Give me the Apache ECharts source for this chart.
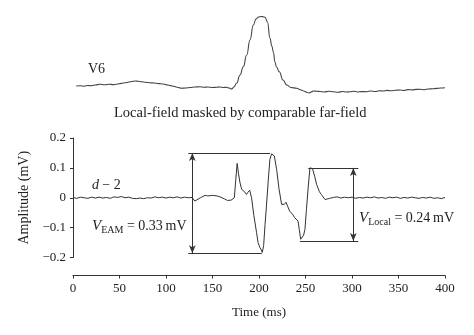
<!DOCTYPE html>
<html><head><meta charset="utf-8">
<script src="https://cdn.jsdelivr.net/npm/echarts@6/dist/echarts.min.js"></script>
<style>html,body{margin:0;padding:0;background:#fff}#c{width:474px;height:335px}</style>
</head><body><div id="c"></div>
<script>
// Time axis ticks (ms) and amplitude ticks (mV)
var xTicks = [0, 50, 100, 150, 200, 250, 300, 350, 400];
var yTicks = [-0.2, -0.1, 0, 0.1, 0.2];

// Lower trace d-2 : [time ms, amplitude mV]
var d2Trace = [
 [0,0.001],[4,-0.002],[8,0.002],[12,0],[16,-0.002],[20,0.002],[24,-0.001],[28,0.002],[32,-0.001],[36,0.001],
 [40,-0.002],[44,0.003],[48,0.001],[52,0.004],[56,0],[60,0.002],[64,-0.002],[68,-0.003],[72,-0.001],[76,-0.003],
 [80,0],[84,-0.001],[88,0.003],[92,0],[96,0.002],[100,-0.001],[104,0.002],[108,0],[112,0.003],[116,-0.001],
 [120,0.002],[124,0],[128,0.001],[131,-0.011],[133,-0.008],[137,0.0],[142,0.008],[145,0.006],[147,0.011],[150,0.008],
 [155,0.006],[158,0.003],[160,0.0],[163,-0.004],[166,-0.009],[168,-0.012],[170,-0.008],[172,-0.01],[173.5,0.0],[175,0.06],
 [176.5,0.115],[178,0.08],[179.6,0.05],[181.4,0.028],[183,0.03],[184.5,0.02],[186.5,0.011],[188,0.018],[190,0.025],[192,0.0],
 [194.5,-0.06],[197.4,-0.117],[199,-0.15],[201,-0.167],[202.5,-0.175],[203.5,-0.183],[205,-0.16],[206.5,-0.09],[208,-0.028],[210,0.06],
 [211.7,0.128],[213.5,0.147],[214.8,0.15],[216.5,0.14],[219,0.094],[221.5,0.03],[224.3,-0.022],[227.2,-0.022],[229,-0.015],[231,-0.03],
 [233,-0.045],[236,-0.055],[238.5,-0.067],[242,-0.078],[243.3,-0.106],[244.8,-0.139],[246,-0.143],[248,-0.125],[249.4,-0.106],[251,-0.04],
 [253,0.039],[254.8,0.1],[257.5,0.098],[260,0.07],[262,0.044],[265,0.02],[267,0.011],[271,-0.006],[276,-0.002],[280,0.001],
 [284,0.003],[288,-0.001],[292,0.002],[296,0],[300,0.002],[304,-0.002],[308,0.001],[312,-0.001],[316,0.002],[320,0],
 [324,0.003],[328,-0.001],[332,0.001],[336,-0.002],[340,0.002],[344,0],[348,0.002],[352,-0.002],[356,0.001],[360,-0.001],
 [364,0.002],[368,0],[372,-0.002],[376,0.001],[380,-0.001],[384,0.002],[388,-0.002],[392,0],[396,-0.003],[400,0.001]
];

// Upper trace V6 : [time ms, relative amplitude]
var v6Trace = [
 [3.5,0.04],[8,0.042],[12,0.038],[16,0.045],[20,0.043],[24,0.05],[29,0.057],[34,0.052],[39,0.058],[43,0.054],
 [47,0.057],[52,0.066],[56,0.072],[60,0.08],[63,0.085],[66.7,0.09],[70,0.088],[74,0.082],[78,0.078],[82.8,0.073],
 [87,0.07],[92,0.064],[97,0.06],[102,0.05],[107,0.04],[112,0.028],[116.9,0.017],[121,0.02],[126,0.025],[131,0.03],
 [136.6,0.033],[141,0.028],[145,0.03],[150,0.025],[154.5,0.027],[158,0.03],[162,0.025],[165.3,0.027],[168,0.02],[170.6,0.01],
 [173,0.03],[176,0.067],[179.6,0.15],[183.1,0.233],[186.8,0.35],[190.3,0.5],[193.9,0.65],[196.8,0.71],[199.5,0.73],[202.2,0.735],
 [204.5,0.733],[206.5,0.727],[209.1,0.68],[211.8,0.517],[213.8,0.44],[215.4,0.38],[217.2,0.28],[218.8,0.23],[221.8,0.183],[225.8,0.1],
 [229.8,0.05],[234.4,0.025],[240.5,0.017],[245.2,0.0],[249,-0.012],[251.3,-0.023],[253.8,-0.03],[256,-0.02],[258.4,-0.01],[262,-0.012],
 [265.6,-0.015],[270,-0.02],[275,-0.013],[280,-0.017],[285,-0.022],[290,-0.015],[294,-0.02],[297.8,-0.017],[302,-0.012],[306,-0.02],
 [310,-0.016],[315.8,-0.017],[320,-0.01],[325,-0.015],[329,-0.008],[333,-0.01],[338,-0.004],[342,-0.008],[347,-0.002],[351.6,0.0],
 [356,-0.005],[360,0.004],[365,0.001],[369,0.006],[373,0.007],[378,0.003],[382,0.01],[387,0.012],[391,0.016],[395,0.02],[400,0.023]
];

// Measurement brackets: [time of arrow, top level, bottom level, top line start, top line end, bottom line start, bottom line end]
var eamMarker = [128.3, 0.15, -0.186, 124, 211.8, 124, 203];
var localMarker = [301.4, 0.10, -0.145, 253, 306.8, 244, 306.8];

function bracket(m) {
  var ls = {color: '#333', width: 1, type: 'solid'};
  return [
    [{coord: [m[3], m[1]], symbol: 'none', lineStyle: ls}, {coord: [m[4], m[1]], symbol: 'none'}],
    [{coord: [m[5], m[2]], symbol: 'none', lineStyle: ls}, {coord: [m[6], m[2]], symbol: 'none'}],
    [{coord: [m[0], m[2]], symbol: 'arrow', symbolSize: [5, 8], lineStyle: ls}, {coord: [m[0], m[1]], symbol: 'arrow', symbolSize: [5, 8]}]
  ];
}

var serif = '"Liberation Serif","DejaVu Serif",serif';
var chart = echarts.init(document.getElementById('c'), null, {renderer: 'canvas'});
chart.setOption({
  animation: false,
  backgroundColor: '#fff',
  grid: [
    {left: 73, right: 29, top: 138, height: 119.5, containLabel: false},
    {left: 73, right: 29, top: 10, height: 90, containLabel: false}
  ],
  xAxis: [
    {gridIndex: 0, type: 'value', min: xTicks[0], max: xTicks[xTicks.length - 1], interval: 50,
     offset: 18, position: 'bottom',
     name: 'Time (ms)', nameLocation: 'middle', nameGap: 31,
     nameTextStyle: {fontFamily: serif, fontSize: 13, color: '#222'},
     axisLine: {show: true, onZero: false, lineStyle: {color: '#333', width: 1}},
     axisTick: {length: 3, lineStyle: {color: '#333'}},
     axisLabel: {fontFamily: serif, fontSize: 13, color: '#222', margin: 7},
     splitLine: {show: false}},
    {gridIndex: 1, type: 'value', min: 0, max: 400, show: false}
  ],
  yAxis: [
    {gridIndex: 0, type: 'value', min: yTicks[0], max: yTicks[yTicks.length - 1], interval: 0.1,
     name: 'Amplitude (mV)', nameLocation: 'middle', nameGap: 38, nameRotate: 90,
     nameTextStyle: {fontFamily: serif, fontSize: 14, color: '#222'},
     axisLine: {show: true, onZero: false, lineStyle: {color: '#333', width: 1}},
     axisTick: {show: true, length: 3, lineStyle: {color: '#333'}},
     axisLabel: {fontFamily: serif, fontSize: 13, color: '#222', margin: 7,
       formatter: function (v) { var s = (Math.round(v * 10) / 10).toString(); return s.replace('-', '\u2212'); }},
     splitLine: {show: false}},
    {gridIndex: 1, type: 'value', min: -0.1, max: 0.8, show: false}
  ],
  series: [
    {type: 'line', xAxisIndex: 0, yAxisIndex: 0, data: d2Trace, showSymbol: false, smooth: false,
     lineStyle: {color: '#333', width: 1}, z: 3,
     markLine: {silent: true, animation: false, label: {show: false}, data: bracket(eamMarker).concat(bracket(localMarker))}},
    {type: 'line', xAxisIndex: 1, yAxisIndex: 1, data: v6Trace, showSymbol: false, smooth: true, smoothMonotone: 'x',
     lineStyle: {color: '#444', width: 1.1}}
  ],
  graphic: [
    {type: 'text', left: 88, top: 62, style: {text: 'V6', font: '14px ' + serif, fill: '#222'}},
    {type: 'text', left: 242 - 128, top: 106, style: {text: 'Local-field masked by comparable far-field', font: '14.5px ' + serif, fill: '#222'}},
    {type: 'text', left: 92, top: 178, style: {rich: {i: {fontFamily: serif, fontStyle: 'italic', fontSize: 14, fill: '#222'}, n: {fontFamily: serif, fontSize: 14, fill: '#222'}}, text: '{i|d} {n|\u2212 2}'}},
    {type: 'text', left: 92, top: 219, style: {rich: {i: {fontFamily: serif, fontStyle: 'italic', fontSize: 15, fill: '#222'}, s: {fontFamily: serif, fontSize: 10, fill: '#222', padding: [8, 0, 0, 0]}, n: {fontFamily: serif, fontSize: 14, fill: '#222'}}, text: '{i|V}{s|EAM}{n| = 0.33\u2009mV}'}},
    {type: 'text', left: 359, top: 211, style: {rich: {i: {fontFamily: serif, fontStyle: 'italic', fontSize: 15, fill: '#222'}, s: {fontFamily: serif, fontSize: 10, fill: '#222', padding: [8, 0, 0, 0]}, n: {fontFamily: serif, fontSize: 14, fill: '#222'}}, text: '{i|V}{s|Local}{n| = 0.24\u2009mV}'}}
  ]
});
</script></body></html>
